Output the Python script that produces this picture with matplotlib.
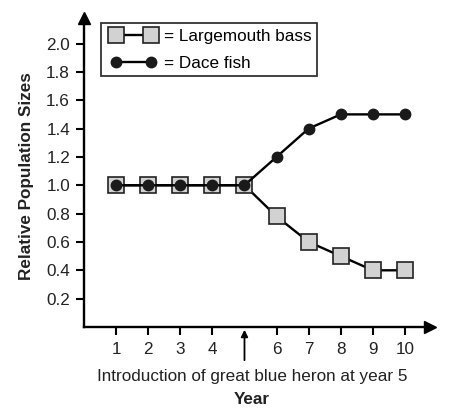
import matplotlib
matplotlib.use("Agg")
import matplotlib.pyplot as plt
from matplotlib.lines import Line2D
from matplotlib.legend_handler import HandlerLine2D

plt.rcParams['font.family'] = ['Liberation Sans', 'DejaVu Sans']

years = [1, 2, 3, 4, 5, 6, 7, 8, 9, 10]
bass = [1.0, 1.0, 1.0, 1.0, 1.0, 0.78, 0.6, 0.5, 0.4, 0.4]
dace = [1.0, 1.0, 1.0, 1.0, 1.0, 1.2, 1.4, 1.5, 1.5, 1.5]
xtick_vals = [1, 2, 3, 4, 6, 7, 8, 9, 10]
xtick_labels = ["1", "2", "3", "4", "6", "7", "8", "9", "10"]
ytick_vals = [0.2, 0.4, 0.6, 0.8, 1.0, 1.2, 1.4, 1.6, 1.8, 2.0]
ytick_labels = ["0.2", "0.4", "0.6", "0.8", "1.0", "1.2", "1.4", "1.6", "1.8", "2.0"]
intro_year = 5

W, H = 457, 413
fig = plt.figure(figsize=(W / 100, H / 100), dpi=100)
x0, x1 = 84, 430
y0, y1 = 327, 18
ax = fig.add_axes([x0 / W, (H - y0) / H, (x1 - x0) / W, (y0 - y1) / H])
ax.set_xlim(0, 10.78)
ax.set_ylim(0, 2.18)

fs = 12.3
ax.plot(years, bass, color='black', lw=1.7, marker='s', markersize=12,
        markerfacecolor='#d2d2d2', markeredgecolor='#222222', markeredgewidth=1.2, zorder=3)
ax.plot(years, dace, color='black', lw=1.7, marker='o', markersize=7.5,
        markerfacecolor='#1a1a1a', markeredgecolor='#1a1a1a', zorder=4)

for s in ['top', 'right']:
    ax.spines[s].set_visible(False)
for s in ['left', 'bottom']:
    ax.spines[s].set_linewidth(1.7)
ax.plot(1, 0, marker='>', color='black', markersize=9, transform=ax.transAxes, clip_on=False)
ax.plot(0, 1, marker='^', color='black', markersize=9, transform=ax.transAxes, clip_on=False)

ax.set_xticks(xtick_vals)
ax.set_xticklabels(xtick_labels, fontsize=fs, color='#222222')
ax.set_yticks(ytick_vals)
ax.set_yticklabels(ytick_labels, fontsize=fs, color='#222222')
ax.tick_params(direction='out', length=6, width=1.5, pad=4)
ax.tick_params(axis='x', pad=5)

ax.annotate('', xy=(intro_year, 0), xycoords=('data', 'axes fraction'),
            xytext=(intro_year, -36 / (y0 - y1)), textcoords=('data', 'axes fraction'),
            arrowprops=dict(arrowstyle='-|>', color='black', lw=1.3, mutation_scale=10))

fig.text(252 / W, 1 - 376 / H, 'Introduction of great blue heron at year 5',
         ha='center', va='center', fontsize=fs, color='#222222')
fig.text(252 / W, 1 - 399 / H, 'Year', ha='center', va='center', fontsize=fs,
         fontweight='bold', color='#222222')
fig.text(27 / W, 1 - 176 / H, 'Relative Population Sizes', ha='center', va='center',
         rotation=90, fontsize=fs, fontweight='bold', color='#222222')

handles = [
    Line2D([], [], color='black', lw=1.7, marker='s', markersize=12,
           markerfacecolor='#d2d2d2', markeredgecolor='#222222', markeredgewidth=1.2),
    Line2D([], [], color='black', lw=1.7, marker='o', markersize=7.5,
           markerfacecolor='#1a1a1a', markeredgecolor='#1a1a1a'),
]
hm = {h: HandlerLine2D(marker_pad=0.55, numpoints=2) for h in handles}
leg = ax.legend(handles, ['= Largemouth bass', '= Dace fish'], loc='upper left',
                bbox_to_anchor=((101 - x0) / (x1 - x0), 1 - (23 - y1) / (y0 - y1)),
                handler_map=hm, fontsize=fs, frameon=True, fancybox=False,
                edgecolor='black', handlelength=3.13, handletextpad=0.2,
                borderpad=0.33, labelspacing=0.7, borderaxespad=0)
leg.get_frame().set_linewidth(1.3)

fig.savefig('out.png', dpi=100)
